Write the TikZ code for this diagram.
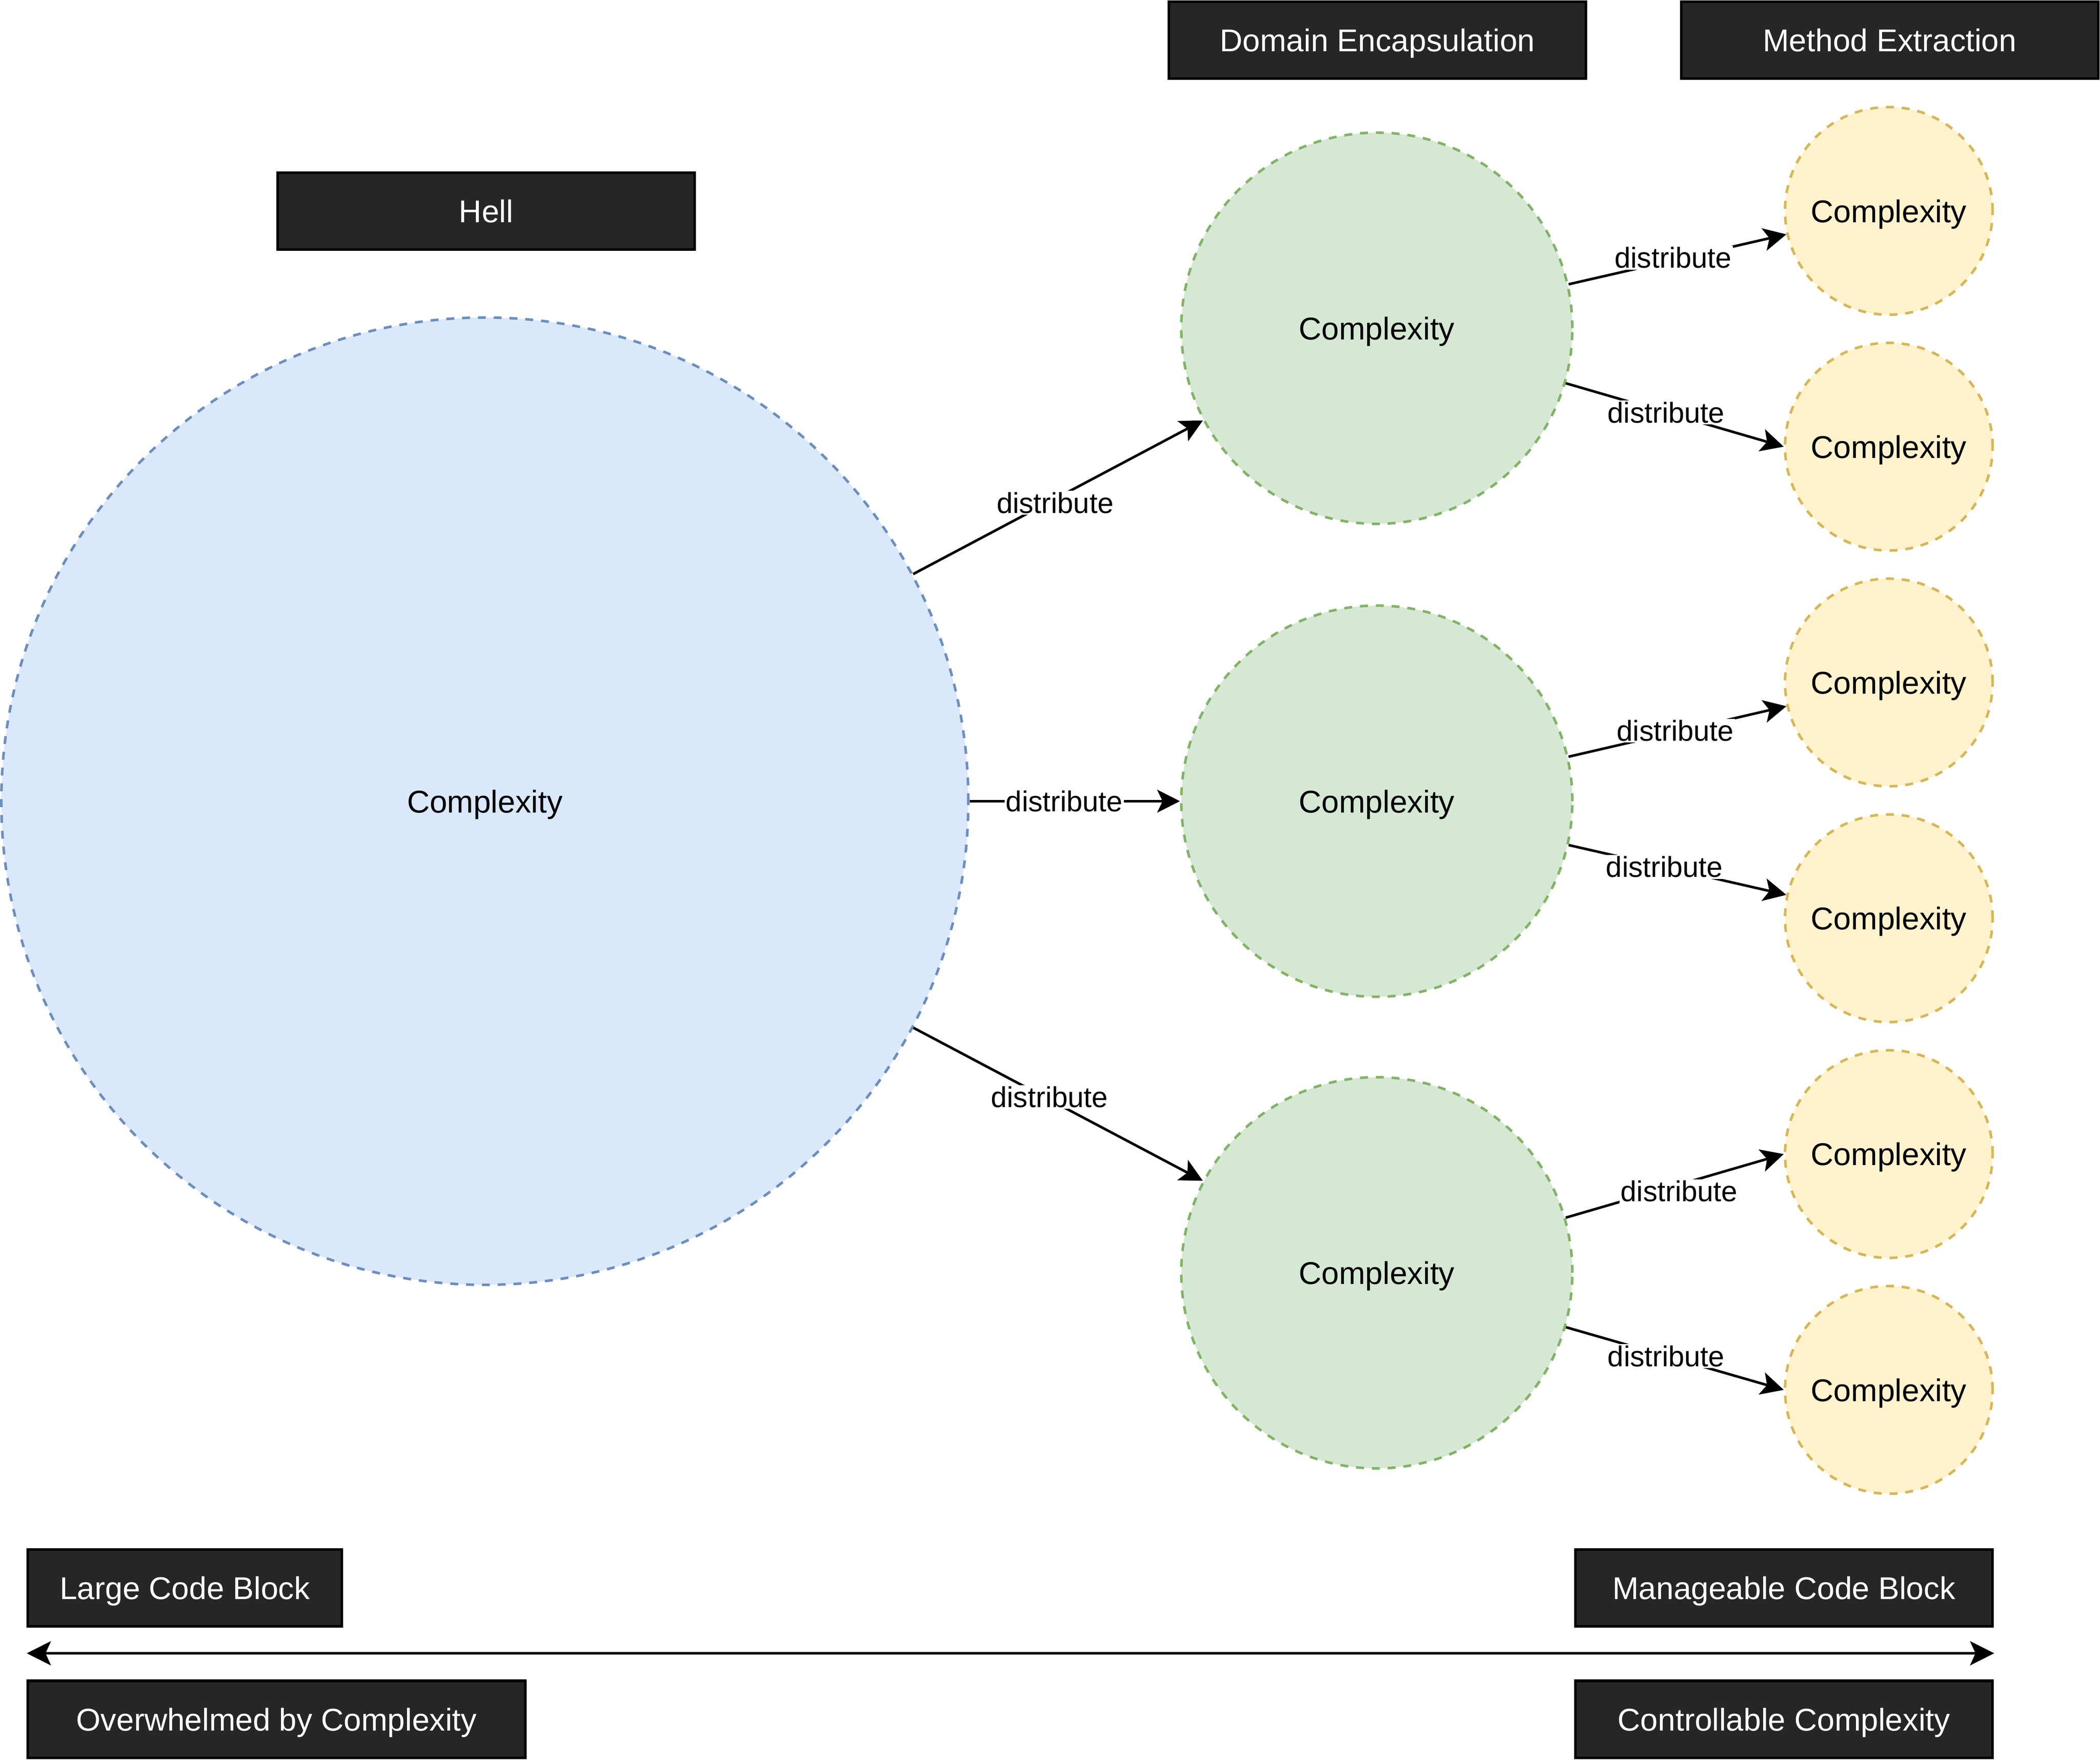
\documentclass[tikz,border=0pt]{standalone}
\usepackage{fontspec}
\setmainfont{Liberation Sans}
\usetikzlibrary{arrows.meta}
\definecolor{bluefill}{HTML}{DAE8FC}
\definecolor{blueline}{HTML}{6C8EBF}
\definecolor{greenfill}{HTML}{D5E8D4}
\definecolor{greenline}{HTML}{82B366}
\definecolor{yellowfill}{HTML}{FFF2CC}
\definecolor{yellowline}{HTML}{D6B656}
\definecolor{boxfill}{HTML}{262626}
\begin{document}
\begin{tikzpicture}[x=1pt,y=-1pt,
  cplx/.style={circle, inner sep=0pt, line width=1.9pt, dash pattern=on 5.9pt off 5.9pt,
    text depth=0pt, font=\fontsize{23.5}{28}\selectfont},
  bigc/.style={cplx, draw=blueline, fill=bluefill, minimum size=722pt},
  midc/.style={cplx, draw=greenline, fill=greenfill, minimum size=292pt},
  smallc/.style={cplx, draw=yellowline, fill=yellowfill, minimum size=155pt},
  darkbox/.style={rectangle, draw=black, fill=boxfill, line width=1.9pt, text=white,
    inner sep=0pt, minimum height=57.5pt, text depth=0pt, font=\fontsize{23.5}{28}\selectfont},
  flow/.style={line width=1.9pt, -{Stealth[length=17pt,width=17pt,inset=4pt]}},
  both/.style={line width=1.9pt, {Stealth[length=18pt,width=18pt,inset=4pt]}-{Stealth[length=18pt,width=18pt,inset=4pt]}},
  lbl/.style={fill=white, inner sep=1pt, font=\fontsize{21.5}{26}\selectfont}
]
\useasboundingbox (0,0) rectangle (1568,1313.5);

% header boxes
\node[darkbox, minimum width=311.5pt] (dom) at (1028.5,30) {Domain Encapsulation};
\node[darkbox, minimum width=311.5pt] (meth) at (1411,30) {Method Extraction};
\node[darkbox, minimum width=311.5pt] (hell) at (363,157.5) {Hell};

% circles
\node[bigc] (big) at (362,598) {Complexity};
\node[midc] (g1) at (1028,245) {Complexity};
\node[midc] (g2) at (1028,598) {Complexity};
\node[midc] (g3) at (1028,950) {Complexity};
\node[smallc] (y1) at (1410.3,157.4) {Complexity};
\node[smallc] (y2) at (1410.3,333.4) {Complexity};
\node[smallc] (y3) at (1410.3,509.4) {Complexity};
\node[smallc] (y4) at (1410.3,685.4) {Complexity};
\node[smallc] (y5) at (1410.3,861.4) {Complexity};
\node[smallc] (y6) at (1410.3,1037.4) {Complexity};

% connectors
\draw[flow] (big) -- node[lbl, pos=0.49, yshift=-3pt] {distribute} (g1);
\draw[flow] (big) -- node[lbl, pos=0.45] {distribute} (g2);
\draw[flow] (big) -- node[lbl, pos=0.47, yshift=2pt] {distribute} (g3);
\draw[flow] (g1) -- node[lbl, pos=0.48, yshift=2pt] {distribute} (y1);
\draw[flow] (g1) -- node[lbl, pos=0.46] {distribute} (y2.west);
\draw[flow] (g2) -- node[lbl, pos=0.49, yshift=1pt] {distribute} (y3);
\draw[flow] (g2) -- node[lbl, pos=0.44] {distribute} (y4);
\draw[flow] (g3) -- node[lbl, pos=0.52, yshift=-5pt] {distribute} (y5.west);
\draw[flow] (g3) -- node[lbl, pos=0.46] {distribute} (y6.west);

% bottom boxes
\node[darkbox, minimum width=234.8pt] (large) at (138,1185.2) {Large Code Block};
\node[darkbox, minimum width=311.5pt] (manage) at (1332,1185.2) {Manageable Code Block};
\node[darkbox, minimum width=371.8pt] (over) at (206.5,1283.3) {Overwhelmed by Complexity};
\node[darkbox, minimum width=311.5pt] (ctrl) at (1332,1283.3) {Controllable Complexity};

% scale arrow
\coordinate (leftend) at (20,1234);
\coordinate (rightend) at (1489,1234);
\draw[both] (leftend) -- (rightend);
\end{tikzpicture}
\end{document}
